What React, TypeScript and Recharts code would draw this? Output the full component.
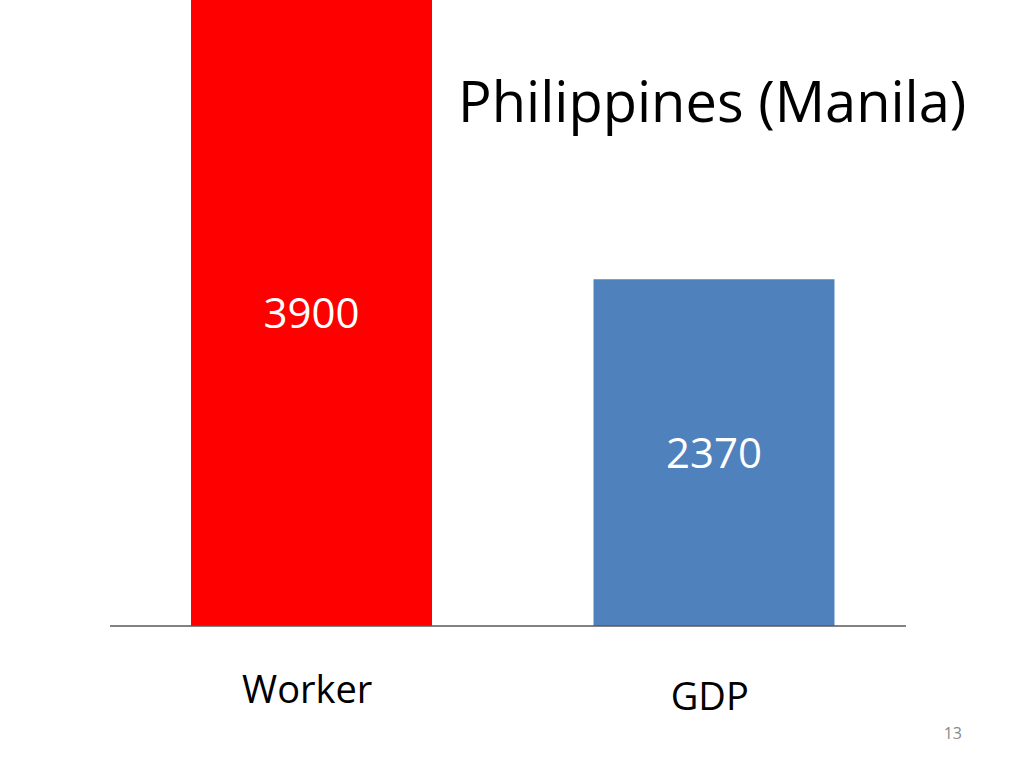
import React from "react";
import { BarChart, Bar, XAxis, YAxis, Cell, LabelList } from "recharts";

const categories = ["Worker", "GDP"];
const values = [3900, 2370];
const barColors = ["#FF0000", "#4F81BD"];
const yDomain: [number, number] = [470, 3900];

const data = categories.map((name, i) => ({ name, value: values[i] }));

const FONT = "'Open Sans', 'Noto Sans', sans-serif";
const TICK_DY = [77, 84];

const CategoryTick = (props: any) => {
  const { x, y, payload, index } = props;
  return (
    <text
      x={x - 4}
      y={y + (TICK_DY[index] ?? 80)}
      textAnchor="middle"
      fontFamily={FONT}
      fontSize={38}
      fill="#000000"
    >
      {payload.value}
    </text>
  );
};

export default function App() {
  return (
    <div
      style={{
        position: "absolute",
        left: 0,
        top: 0,
        width: 1024,
        height: 768,
        overflow: "hidden",
        background: "#ffffff",
        fontFamily: FONT,
      }}
    >
      <BarChart
        width={1024}
        height={768}
        data={data}
        margin={{ top: 0, right: 118, bottom: 112, left: 110 }}
        barSize={241}
      >
        <XAxis
          dataKey="name"
          height={30}
          axisLine={{ stroke: "#595959", strokeWidth: 1.3 }}
          tickLine={false}
          tickSize={0}
          tickMargin={0}
          tick={<CategoryTick />}
          padding={{ left: 0, right: -9 }}
          interval={0}
        />
        <YAxis hide domain={yDomain} allowDataOverflow />
        <Bar dataKey="value" isAnimationActive={false}>
          {data.map((d, i) => (
            <Cell key={d.name} fill={barColors[i]} />
          ))}
          <LabelList
            dataKey="value"
            position="center"
            fill="#ffffff"
            fontSize={42}
            fontFamily={FONT}
          />
        </Bar>
      </BarChart>
      <div
        style={{
          position: "absolute",
          left: 458,
          top: 62,
          fontSize: 56,
          lineHeight: "76px",
          color: "#000000",
          whiteSpace: "pre",
        }}
      >
        {"Philippines (Manila)"}
      </div>
      <div
        style={{
          position: "absolute",
          right: 62,
          top: 722,
          fontSize: 16,
          lineHeight: "22px",
          color: "#898989",
        }}
      >
        13
      </div>
    </div>
  );
}
